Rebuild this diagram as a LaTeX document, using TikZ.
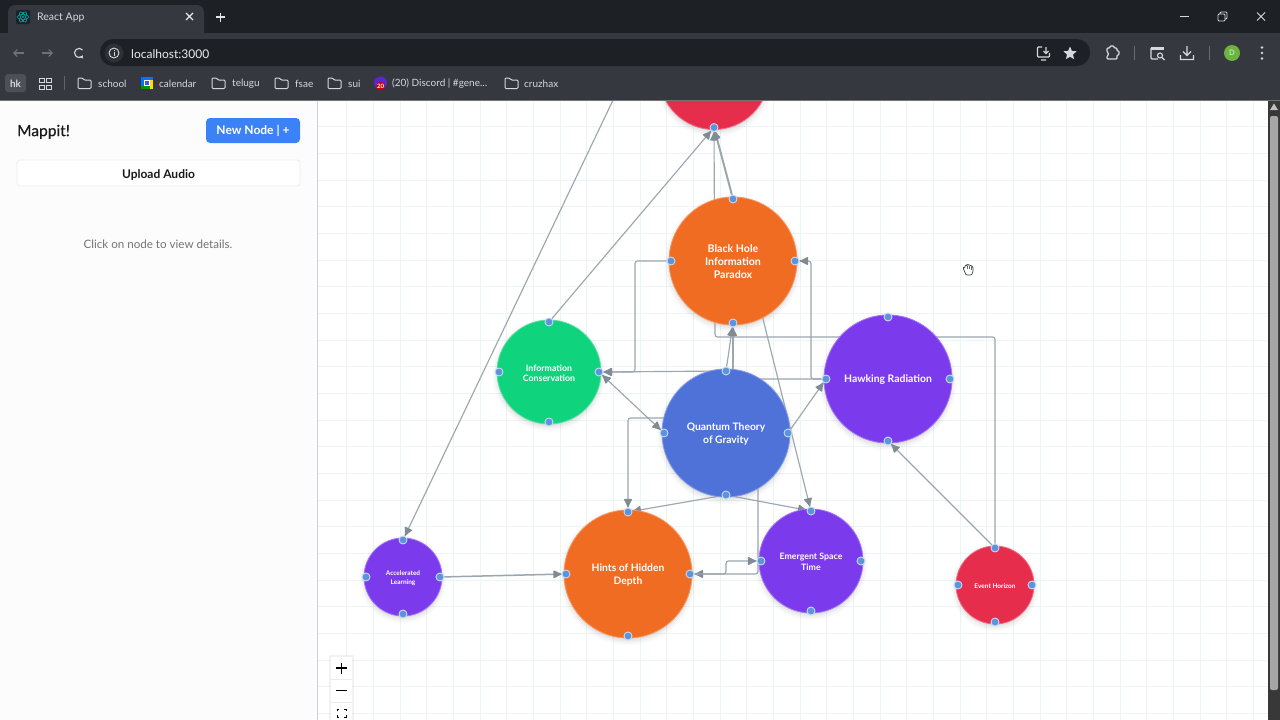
\documentclass[tikz,border=0pt]{standalone}
\usepackage{fontspec}
\setmainfont{Lato}
\newfontface\medfont{Lato}[FakeBold=0.35]
\usetikzlibrary{arrows.meta,calc}
\pgfdeclarelayer{back}\pgfdeclarelayer{front}
\pgfsetlayers{back,main,front}
\definecolor{cOrange}{HTML}{F06C22}
\definecolor{cPurple}{HTML}{7C3AED}
\definecolor{cBlue}{HTML}{4F72D9}
\definecolor{cGreen}{HTML}{10D37E}
\definecolor{cRed}{HTML}{E72D4C}
\definecolor{cEdge}{HTML}{9CA6AE}
\definecolor{cTip}{HTML}{808B94}
\definecolor{cHandle}{HTML}{5B93DC}
\definecolor{cDark}{HTML}{1D2125}
\definecolor{cBar}{HTML}{35383E}
\definecolor{cGrid}{HTML}{EBF5F3}
\definecolor{cIcon}{HTML}{D5D8E0}
\definecolor{cBtn}{HTML}{3B82F6}
\tikzset{
  x=1pt,y=-1pt,
  bubble/.style={circle,inner sep=0pt},
  bubtext/.style={inner sep=0pt,text=white,align=center},
  handle/.style={circle,draw=white!65!cHandle,line width=0.9pt,fill=cHandle,inner sep=0pt,minimum size=8pt},
  edge/.style={draw=cEdge,line width=1.15pt,rounded corners=2.5pt},
  arrowed/.style={edge,-{Latex[length=10pt,width=9pt,round,color=cTip]}},
  icon/.style={draw=cIcon,line width=1.1pt,fill=none},
  folder/.style={draw=#1,line width=1pt,rounded corners=1pt,line join=round},
  uitext/.style={inner sep=0pt,anchor=west,yshift=-.8pt},
}
% name, x, y, r, colour, font size, leading, text
\newcommand{\bub}[8]{%
  \begin{pgfonlayer}{back}
    \foreach \dr/\op in {5/.012,3.5/.018,2/.025,0.5/.03,-1/.04}{
      \fill[black,opacity=\op] (#2,#3+2.5) circle[radius=#4+\dr];}
  \end{pgfonlayer}
  \node[bubble,fill=#5,draw=#5!70!white,line width=0.8pt,minimum size=#4*2pt] (#1) at (#2,#3) {};
  \node[bubtext,font=\fontsize{#6}{#7}\selectfont\bfseries] (#1Text) at (#2,#3+.8) {#8};
  \node[handle] (#1T) at (#2,#3-#4+2) {};
  \node[handle] (#1B) at (#2,#3+#4-2) {};
  \node[handle] (#1L) at (#2-#4+2,#3) {};
  \node[handle] (#1R) at (#2+#4-2,#3) {};
}
\newcommand{\foldericon}[2]{%
  \draw[folder=#2] (#1,78) -- (#1+4.5,78) -- (#1+6,80) -- (#1+13,80) -- (#1+13,88.5) -- (#1,88.5) -- cycle;}
\begin{document}
\begin{tikzpicture}
\useasboundingbox (0,0) rectangle (1280,720);
\begin{pgfonlayer}{back}
  \fill[white] (0,0) rectangle (1280,720);
  \foreach \i in {0,...,34}{\draw[cGrid,line width=.7pt] ({346.67+26.667*\i},100) -- ({346.67+26.667*\i},720);}
  \foreach \i in {0,...,22}{\draw[cGrid,line width=.7pt] (317,{126.67+26.667*\i}) -- (1268,{126.67+26.667*\i});}
\end{pgfonlayer}

\bub{top}{714}{74.5}{55}{cRed}{9}{10}{}
\bub{bh}{733}{261}{64}{cOrange}{10.6}{12.8}{Black Hole\\Information\\Paradox}
\bub{ic}{549}{372}{52}{cGreen}{8.8}{10}{Information\\Conservation}
\bub{qg}{726}{433}{64}{cBlue}{10.3}{13}{Quantum Theory\\of Gravity}
\bub{hr}{888}{379}{64}{cPurple}{10.4}{13}{Hawking Radiation}
\bub{hd}{628}{574}{64}{cOrange}{10.3}{13}{Hints of Hidden\\Depth}
\bub{es}{811}{561}{52}{cPurple}{8.8}{10.5}{Emergent Space\\Time}
\bub{al}{403}{577}{39}{cPurple}{6.5}{9}{Accelerated\\Learning}
\bub{eh}{995}{585}{39}{cRed}{6.5}{8}{Event Horizon}

\coordinate (off) at (625,75);
\coordinate (c1) at (995,337);
\coordinate (c2) at (715,337);
\coordinate (c3) at (635,261);
\coordinate (c4) at (635,372);
\coordinate (c5) at (811,379);
\coordinate (c6) at (811,261);
\coordinate (c7) at (758,379);
\coordinate (c8) at (758,574);
\coordinate (c9) at (726,574);
\coordinate (c10) at (726,561);
\coordinate (c11) at (628,418);
\coordinate (c12) at (700,418);
\coordinate (c13) at (733,372);

\begin{pgfonlayer}{back}
  \draw[arrowed] (off) -- (alT);
  \draw[arrowed] (icT) -- (topB);
  \draw[arrowed,line width=2pt] (bhT) -- (topB);
  \draw[arrowed] (ehT) -- (c1) -- (c2) -- (topB);
  \draw[arrowed] (bhL) -- (c3) -- (c4) -- (icR);
  \draw[arrowed] (qgT) -- (icR);
  \draw[edge,{Latex[length=10pt,width=9pt,round,color=cTip]}-{Latex[length=10pt,width=9pt,round,color=cTip]}] (icR) -- (qgL);
  \draw[arrowed] (qgT) -- (bhB);
  \draw[arrowed] (c13) -- (bhB);
  \draw[arrowed] (qgR) -- (hrL);
  \draw[arrowed] (hrL) -- (c5) -- (c6) -- (bhR);
  \draw[arrowed] (hrL) -- (c7) -- (c8) -- (hdR);
  \draw[arrowed] (qgB) -- (hdT);
  \draw[arrowed] (qgB) -- (esT);
  \draw[arrowed] (c12) -- (c11) -- (hdT);
  \draw[arrowed] (bhT) -- (esT);
  \draw[arrowed] (hdR) -- (c9) -- (c10) -- (esL);
  \draw[arrowed,line width=1.5pt] (alR) -- (hdL);
  \draw[arrowed] (ehT) -- (hrB);
\end{pgfonlayer}

\begin{pgfonlayer}{front}
  % browser chrome
  \fill[cDark] (0,0) rectangle (1280,33);
  \fill[cBar] (0,33) rectangle (1280,100);
  \fill[cBar,rounded corners=7pt] (8,5) rectangle (204,40);
  \fill[cDark,rounded corners=13pt] (100,39) rectangle (1090,66);
  \fill[black!55] (0,99.6) rectangle (1280,100.6);
  % tab
  \fill[cDark,rounded corners=2pt] (16,10) rectangle (30,24);
  \foreach \a in {0,60,120}{\draw[teal!70!cyan,line width=.6pt,rotate around={\a:(23,17)}] (23,17) ellipse[x radius=6,y radius=2.4];}
  \fill[teal!70!cyan] (23,17) circle[radius=1.2];
  \node[uitext,text=cIcon,font=\fontsize{10.5}{12}\selectfont] (tabT) at (37,17) {React App};
  \draw[white!90!black,line width=1.1pt] (186,13) -- (193,20) (193,13) -- (186,20);
  \draw[white!90!black,line width=1.1pt] (216,17) -- (225,17) (220.5,12.5) -- (220.5,21.5);
  % window controls
  \draw[cIcon,line width=.9pt] (1180,16.5) -- (1189,16.5);
  \draw[cIcon,line width=.9pt,rounded corners=1pt] (1218,14) rectangle (1225,21) (1220,14) -- (1220,12) -- (1227,12) -- (1227,19) -- (1225,19);
  \draw[cIcon,line width=.9pt] (1257,12.5) -- (1265,20.5) (1265,12.5) -- (1257,20.5);
  % nav
  \draw[gray!80!cBar,line width=1.1pt,-{Straight Barb[length=3.5pt,width=7pt]}] (24,53) -- (13,53);
  \draw[gray!80!cBar,line width=1.1pt,-{Straight Barb[length=3.5pt,width=7pt]}] (42,53) -- (53,53);
  \draw[cIcon,line width=1.1pt,-{Latex[length=3pt,width=4pt]}] (82.5,50) arc[start angle=-40,end angle=-330,radius=4.5];
  \fill[black!15!cBar] (114,53) circle[radius=9.5];
  \draw[cIcon,line width=.9pt] (114,53) circle[radius=5];
  \draw[cIcon,line width=1pt] (114,52) -- (114,56) (114,50) -- (114,50.8);
  \node[uitext,text=white!92!black,font=\fontsize{12}{14}\selectfont] (urlT) at (131,53) {localhost:3000};
  % right toolbar icons
  \draw[icon,rounded corners=1pt] (1042,47) -- (1037.5,47) -- (1037.5,57) -- (1049.5,57) -- (1049.5,53) (1041,60) -- (1046,60) (1046,47) -- (1046,53);
  \draw[icon] (1043.5,51) -- (1046,53.5) -- (1048.5,51);
  \fill[cIcon] (1070,46.5) -- (1071.9,50.9) -- (1076.6,51.3) -- (1073,54.5) -- (1074.1,59.2) -- (1070,56.7) -- (1065.9,59.2) -- (1067,54.5) -- (1063.4,51.3) -- (1068.1,50.9) -- cycle;
  \draw[icon,rounded corners=1pt] (1107,48) -- (1110,48) -- (1110,46) -- (1114,46) -- (1114,48) -- (1117,48) -- (1117,51) -- (1119,51) -- (1119,55) -- (1117,55) -- (1117,59) -- (1107,59) -- (1107,56) -- (1109,54) -- (1107,52) -- cycle;
  \draw[gray!70!cBar,line width=.7pt] (1134,46) -- (1134,60) (1209,46) -- (1209,60);
  \draw[icon,rounded corners=1pt] (1151,48) -- (1151,59) -- (1158,59);
  \fill[cIcon] (1151,47) rectangle (1164,50);
  \draw[icon] (1160,55.5) circle[radius=2.5] (1162,57.5) -- (1164.5,60);
  \draw[icon] (1187,46) -- (1187,55) (1183,51.5) -- (1187,55.5) -- (1191,51.5) (1180.5,55) -- (1180.5,59.5) -- (1193.5,59.5) -- (1193.5,55);
  \definecolor{cAvatar}{HTML}{6DB33F}
  \fill[cAvatar] (1232,53) circle[radius=8];
  \node[inner sep=0pt,text=white!85!green,font=\fontsize{7.5}{8}\selectfont] (avT) at (1232,53) {D};
  \fill[cIcon] (1262,47.5) circle[radius=1.3] (1262,53) circle[radius=1.3] (1262,58.5) circle[radius=1.3];
  % bookmarks
  \fill[white!12!cBar,rounded corners=3pt] (5,74) rectangle (26,92);
  \node[inner sep=0pt,text=cIcon,font=\fontsize{10}{12}\selectfont\bfseries,yshift=-.5pt] (hkT) at (15.5,83) {hk};
  \foreach \xx/\yy in {39.5/78,46.5/78,39.5/85,46.5/85}{\draw[cIcon,line width=.9pt] (\xx,\yy) rectangle +(4.5,4.5);}
  \draw[gray!60!cBar,line width=.7pt] (64,76) -- (64,90);
  \foreach \xx in {78,212,275,328,505}{\foldericon{\xx}{cIcon}}
  \node[uitext,text=cIcon,font=\fontsize{10}{12}\selectfont] (b1) at (98,83) {school};
  \fill[blue!55!cyan] (141,77) rectangle (153,89);
  \fill[white] (143.5,79.5) rectangle (150.5,85.5);
  \fill[green!60!black] (141,86) rectangle (150,89);
  \fill[yellow!80!orange] (150,80) rectangle (153,89);
  \fill[blue!70] (145,81) rectangle (149,84.5);
  \node[uitext,text=cIcon,font=\fontsize{10}{12}\selectfont] (b2) at (159,83) {calendar};
  \node[uitext,text=cIcon,font=\fontsize{10}{12}\selectfont] (b3) at (232,83) {telugu};
  \node[uitext,text=cIcon,font=\fontsize{10}{12}\selectfont] (b4) at (295,83) {fsae};
  \node[uitext,text=cIcon,font=\fontsize{10}{12}\selectfont] (b5) at (348,83) {sui};
  \fill[blue!50!violet!85!white] (380.5,83) circle[radius=6.5];
  \fill[red!80!black] (380.5,86) circle[radius=4.2];
  \node[inner sep=0pt,text=white,font=\fontsize{6}{7}\selectfont\bfseries] (dT) at (380.5,86) {20};
  \node[uitext,text=cIcon,font=\fontsize{10}{12}\selectfont] (b6) at (392,83) {(20) Discord | \#gene...};
  \node[uitext,text=cIcon,font=\fontsize{10}{12}\selectfont] (b7) at (524,83) {cruzhax};
  % sidebar
  \fill[white!99!black] (0,100.6) rectangle (317,720);
  \draw[cGrid!85!blue,line width=.8pt] (317.3,100.6) -- (317.3,720);
  \node[uitext,text=black!90,font=\fontsize{15.5}{18}\selectfont\medfont] (mp) at (17,131) {Mappit!};
  \fill[cBtn,rounded corners=4pt] (206,118) rectangle (300,143);
  \node[inner sep=0pt,text=white,font=\fontsize{12}{14}\selectfont\bfseries,yshift=-.6pt] (nn) at (253,130.5) {New Node | +};
  \draw[fill=white,draw=black!7,line width=.7pt,rounded corners=3pt] (17,160) rectangle (300,186);
  \node[inner sep=0pt,text=black!90,font=\fontsize{12}{14}\selectfont\bfseries,yshift=-.8pt] (ua) at (158.5,174.5) {Upload Audio};
  \node[inner sep=0pt,text=black!55,font=\fontsize{11.6}{14}\selectfont] (cl) at (158,244) {Click on node to view details.};
  % flow controls
  \fill[black,opacity=.05] (329,655) rectangle (354,720);
  \fill[white] (331,657) rectangle (352,720);
  \draw[black!8,line width=.6pt] (331,679.5) -- (352,679.5) (331,702) -- (352,702);
  \draw[black,line width=1.1pt] (336,668) -- (347,668) (341.5,662.5) -- (341.5,673.5);
  \draw[black,line width=1.1pt] (336,690.5) -- (347,690.5);
  \draw[black,line width=1pt] (337,711) -- (337,709) -- (339,709) (344,709) -- (346,709) -- (346,711) (346,715) -- (346,717) -- (344,717) (339,717) -- (337,717) -- (337,715);
  % scrollbar
  \fill[black!78] (1267.5,100.6) rectangle (1280,720);
  \fill[black!35,rounded corners=2pt] (1270,116) rectangle (1278,690);
  \fill[black!25] (1274,103.5) -- (1278,110) -- (1270,110) -- cycle;
  % hand cursor
  \draw[black!75,fill=white,line width=.7pt,line join=round,rounded corners=.8pt] (964,270) -- (963,268) -- (964,267) -- (965,268) -- (965,265.5) -- (966.3,265) -- (967,265.5) -- (967.3,264.5) -- (968.6,264.5) -- (969.2,265.5) -- (970.5,265) -- (971.2,266) -- (972,266.2) -- (973,267) -- (973,271.5) -- (971.5,275) -- (966,275) -- cycle;
  \draw[black!60,line width=.5pt] (967,266) -- (967,269) (969.2,266) -- (969.2,269) (971.2,267) -- (971.2,269.5);
\end{pgfonlayer}
\end{tikzpicture}
\end{document}
